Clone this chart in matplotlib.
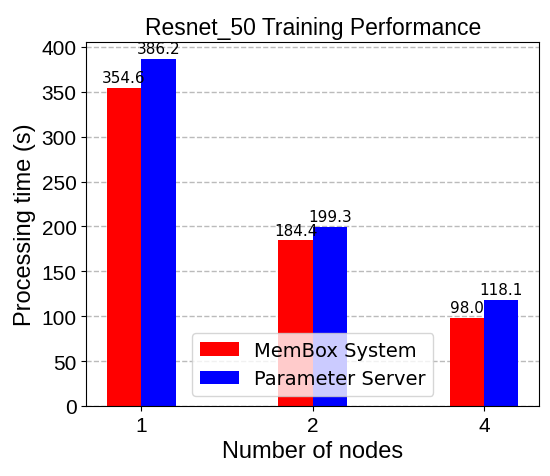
import matplotlib.pyplot as plt
import numpy as np

nodes = ['1', '2', '4']
membox = [354.6, 184.4, 98.0]
param_server = [386.2, 199.3, 118.1]

x = np.arange(len(nodes))
w = 0.2
arial = 'Liberation Sans'

fig, ax = plt.subplots(figsize=(5.5, 4.77), dpi=100)
ax.grid(axis='y', linestyle='--', color='#bbbbbb', linewidth=1)
ax.set_axisbelow(True)

b1 = ax.bar(x - w / 2, membox, w, color='red', label='MemBox System')
b2 = ax.bar(x + w / 2, param_server, w, color='blue', label='Parameter Server')
ax.bar_label(b1, fmt='%.1f', fontsize=11, padding=2)
ax.bar_label(b2, fmt='%.1f', fontsize=11, padding=2)

ax.set_xticks(x)
ax.set_xticklabels(nodes)
for lbl in ax.get_xticklabels() + ax.get_yticklabels():
    lbl.set_fontfamily(arial)
    lbl.set_fontsize(15)
ax.set_xlabel('Number of nodes', fontsize=17, family=arial)
ax.set_ylabel('Processing time (s)', fontsize=17, family=arial)
ax.set_title('Resnet_50 Training Performance', fontsize=16.5, family=arial)
ax.legend(loc='lower center', fontsize=14)

plt.subplots_adjust(left=0.157, right=0.98, top=0.91, bottom=0.147)
plt.savefig('out.png')
